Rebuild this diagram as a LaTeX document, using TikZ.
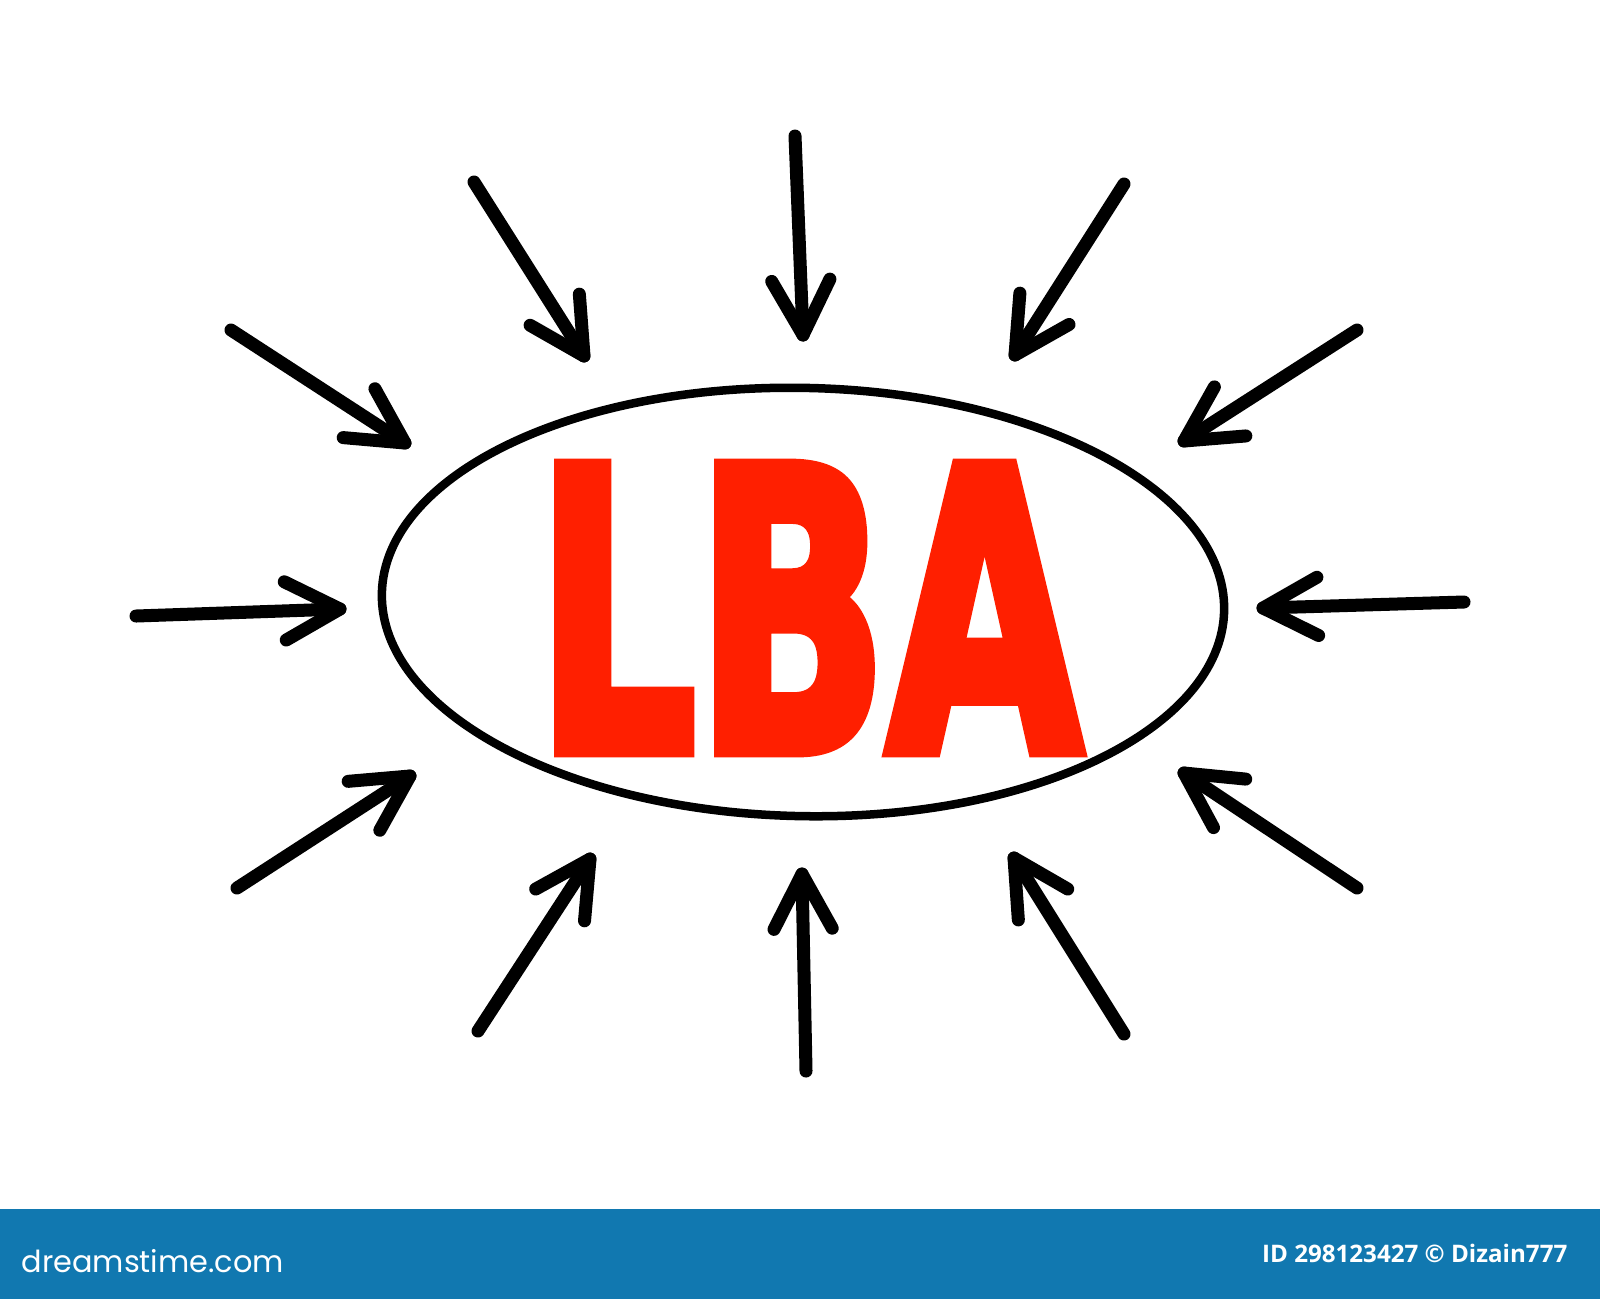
\documentclass[tikz,border=0pt]{standalone}
\usepackage{fontspec}
\usetikzlibrary{calc,shapes.geometric}
\newfontfamily\lbafont[FakeBold=4]{DejaVu Sans Bold}
\newfontfamily\barfont{Open Sans}
\newfontfamily\logofont{Poppins}
\definecolor{lbared}{HTML}{FF1F00}
\definecolor{barblue}{HTML}{1178B0}
\begin{document}
\begin{tikzpicture}[x=0.01cm,y=-0.01cm,
  arrowline/.style={line width=0.13cm,line cap=round,line join=round,black},
  ringline/.style={draw=black,line width=0.085cm,ellipse,inner sep=0pt,minimum width=8.42cm,minimum height=4.28cm}]
\useasboundingbox (0,0) rectangle (1600,1299);
\fill[white] (0,0) rectangle (1600,1209);
\fill[barblue] (0,1209) rectangle (1600,1299);
% ellipse and text
\node[ringline,rotate=-1.2] (ring) at (803,602) {};
\node[inner sep=0pt,text=lbared] (lba) at (809,608) {\resizebox{5.45cm}{2.83cm}{\lbafont LBA}};
% arrow coordinates
\coordinate (t1) at (136,616);  \coordinate (h1) at (340,609);
\coordinate (t2) at (231,330);  \coordinate (h2) at (405,443);
\coordinate (t3) at (474,182);  \coordinate (h3) at (584,356);
\coordinate (t4) at (795,136);  \coordinate (h4) at (803,335);
\coordinate (t5) at (1124,184); \coordinate (h5) at (1015,355);
\coordinate (t6) at (1357,330); \coordinate (h6) at (1184,441);
\coordinate (t7) at (1464,602); \coordinate (h7) at (1263,608);
\coordinate (t8) at (1357,888); \coordinate (h8) at (1184,773);
\coordinate (t9) at (1124,1034);\coordinate (h9) at (1014,858);
\coordinate (t10) at (806,1071);\coordinate (h10) at (802,874);
\coordinate (t11) at (478,1031);\coordinate (h11) at (590,859);
\coordinate (t12) at (237,888); \coordinate (h12) at (410,776);
\foreach \i in {1,...,12}{
  \draw[arrowline] (t\i) -- (h\i);
  \draw[arrowline] ($(h\i)!0.62cm!28:(t\i)$) -- (h\i) -- ($(h\i)!0.62cm!-28:(t\i)$);
}
% bottom bar texts
\node[anchor=south west,inner sep=0pt,text=white] (logo) at (21,1273) {\resizebox{2.62cm}{!}{\logofont dreamstime.com}};
\node[anchor=south east,inner sep=0pt,text=white] (credit) at (1568,1263) {\resizebox{3.05cm}{!}{\barfont\bfseries ID 298123427 © Dizain777}};
\end{tikzpicture}
\end{document}
